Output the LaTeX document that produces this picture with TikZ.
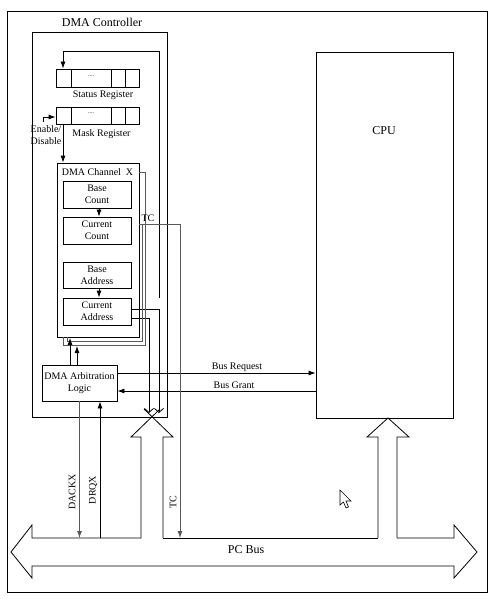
\documentclass[tikz,border=0pt]{standalone}
\usepackage{fontspec}
\setmainfont{Liberation Serif}
\usetikzlibrary{arrows.meta}

\tikzset{
  sig/.style={line width=0.8pt},
  tip/.style={-{Latex[length=7pt,width=5pt]}},
  vtip/.style={-{Straight Barb[length=4pt,width=9pt]}},
  box/.style={draw, line width=0.8pt, inner sep=0pt, align=center,
    font=\fontsize{10}{12}\selectfont},
  lbl/.style={inner sep=0pt, align=center, font=\fontsize{10}{12}\selectfont},
  biglbl/.style={inner sep=0pt, font=\fontsize{12}{14}\selectfont},
}

\begin{document}
\begin{tikzpicture}[x=1pt,y=-1pt]
  \useasboundingbox (0,0) rectangle (500,599);
  \draw[sig] (7,11) rectangle (487,592);

% DMA controller side
\node[box, minimum width=135pt, minimum height=385pt] (ctrl) at (99.5,224.5) {};
\node[biglbl] (ctrllbl) at (102,22) {DMA Controller};

\node[box, minimum width=83pt, minimum height=18pt] (stat) at (97.5,78) {};
\node[box, minimum width=83pt, minimum height=17pt] (mask) at (97.5,115.5) {};
\foreach \c in {71,111,125} {
  \draw[sig] (\c,69) -- (\c,87);
  \draw[sig] (\c,107) -- (\c,124);
}
\node[lbl, font=\fontsize{6}{6}\selectfont] (sdots) at (91,76) {....};
\node[lbl, font=\fontsize{6}{6}\selectfont] (mdots) at (91,113) {....};
\node[lbl] (statlbl) at (103,95) {Status Register};
\node[lbl] (masklbl) at (101.5,134) {Mask Register};
\node[lbl, align=left] (enlbl) at (46,135) {Enable/\\Disable};

\node[box, minimum width=82pt, minimum height=174pt] (chan) at (98,250) {};
\node[lbl] (chanlbl) at (97.5,172) {DMA Channel\ \ X};
\node[box, minimum width=68pt, minimum height=27pt] (bcnt) at (97,194.5) {Base\\Count};
\node[box, minimum width=68pt, minimum height=27pt] (ccnt) at (97,230.5) {Current\\Count};
\node[box, minimum width=68pt, minimum height=26pt] (badr) at (97,275) {Base\\Address};
\node[box, minimum width=68pt, minimum height=27pt] (cadr) at (97,311.5) {Current\\Address};

\node[box, minimum width=75pt, minimum height=36pt] (arb) at (79.5,383) {DMA Arbitration\\Logic};

% CPU side
\node[box, minimum width=137pt, minimum height=366pt] (cpu) at (384.5,235) {};
\node[biglbl] (cpulbl) at (384,131) {CPU};

% inner connections
\draw[sig,tip] ([xshift=2pt]bcnt.south) -- ([xshift=2pt]ccnt.north);
\draw[sig,tip] ([xshift=2pt]badr.south) -- ([xshift=2pt]cadr.north);
\draw[sig,tip] ([xshift=-34.5pt]mask.south) -- ([xshift=-35pt]chan.north);
\coordinate (en) at (43,122);
\draw[sig,tip] (en) |- ([yshift=-1.5pt]mask.west);

\coordinate (xa) at (149,413);
\coordinate (xb) at (159,413);
\coordinate (sl) at (159,51);
\draw[sig,vtip] ([yshift=2.5pt]cadr.east) -| (xb);
\draw[sig,vtip] ([yshift=-6.5pt]cadr.east) -| (xa);
\draw[sig,tip] (xb |- cadr.north) -- (sl) -| ([xshift=-34.5pt]stat.north);

\draw[sig,gray!70!black] (chan.east |- chanlbl) -- (145,172) -- (145,345) -- (63,345)
  -- ([xshift=-35pt]chan.south);
\draw[sig,gray!70!black] (142,224) -- (142,341) -- (67,341) -- ([xshift=-31pt]chan.south);
\draw[sig,tip] ([xshift=-9.5pt]arb.north) -- (70,338);
\draw[sig,tip] ([xshift=-2.5pt]arb.north) -- (77,346);

% bus request / grant
\coordinate (rq) at ([yshift=10pt]arb.east);
\coordinate (gr) at ([yshift=-8pt]arb.east);
\draw[sig,tip] (rq) -- (rq -| cpu.west);
\draw[sig,tip] (gr -| cpu.west) -- (gr);
\node[lbl] (rqlbl) at (237,367) {Bus Request};
\node[lbl] (grlbl) at (234,385) {Bus Grant};

% PC bus
\coordinate (bt) at (0,538);
\draw[sig] (141,538) -- (32,538) -- (32,525) -- (11,552) -- (32,578) -- (32,566)
  -- (454,566) -- (454,578) -- (477,552) -- (454,525) -- (454,538) -- (397,538);
\draw[sig] (163,538) -- (378,538);
\node[biglbl] (buslbl) at (246,550) {PC Bus};

% hollow arrows onto the bus
\draw[sig] (141,538) -- (141,437) -- (131,437) -- (160,409);
\draw[sig] (144,409) -- (173,437) -- (163,437) -- (163,538);
\draw[sig] (378,538) -- (378,437) -- (367,437) -- (388,418) -- (409,437) -- (397,437) -- (397,538);

% signals to the bus
\coordinate (dq) at ([xshift=20.5pt]arb.south);
\draw[sig,gray!70!black,tip] (arb.south) -- (arb.south |- bt);
\draw[sig,tip] (dq |- bt) -- (dq);
\draw[sig,gray!70!black,tip] (chan.east |- 0,224) -| (180,538);
\node[lbl, rotate=90] (dacklbl) at (72,492) {DACKX};
\node[lbl, rotate=90] (drqlbl) at (93,490) {DRQX};
\node[lbl, rotate=90] (tcbus) at (173,502) {TC};
\node[lbl] (tclbl) at (148,218) {TC};

% cursor
\draw[line width=0.6pt, fill=white] (340,490) -- (340,505) -- (343.5,502) -- (346,508)
  -- (348.5,507) -- (346,501) -- (351,501) -- cycle;
\end{tikzpicture}
\end{document}
